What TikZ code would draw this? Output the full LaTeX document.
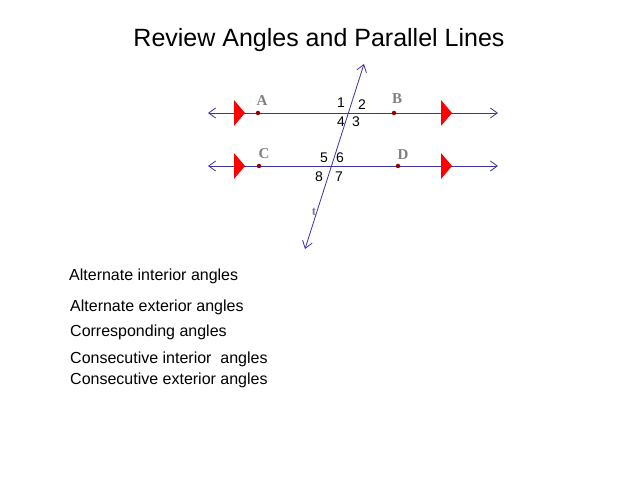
\documentclass[tikz,border=0pt]{standalone}
\usepackage{fontspec}
\setmainfont{Liberation Sans}
\newfontfamily\serifb{Liberation Serif}
\usetikzlibrary{arrows.meta}
\begin{document}
\begin{tikzpicture}[x=1pt,y=-1pt,
  ln/.style={draw={rgb,255:red,60;green,50;blue,160},line width=0.8pt,<->,>={Straight Barb[length=7pt,width=10pt]}},
  tri/.style={fill=red,draw=none},
  pt/.style={circle,fill={rgb,255:red,150;green,0;blue,0},inner sep=0pt,minimum size=4.5pt},
  lett/.style={font=\serifb\bfseries\fontsize{15}{15}\selectfont,text=gray},
  num/.style={font=\fontsize{14}{14}\selectfont},
  item/.style={font=\fontsize{16}{16}\selectfont,anchor=west,inner sep=0pt}]
\useasboundingbox (0,0) rectangle (638,478);
\node[font=\fontsize{25}{26}\selectfont] (title) at (319,40) {Review Angles and Parallel Lines};
\coordinate (L1) at (208,113); \coordinate (R1) at (498,113);
\coordinate (L2) at (208,166); \coordinate (R2) at (498,166);
\coordinate (T1) at (364,64); \coordinate (T2) at (305,249);
\draw[ln] (L1) -- (R1);
\draw[ln] (L2) -- (R2);
\draw[ln] (T2) -- (T1);
\foreach \x/\y in {234/113,441/113,234/166,441/166}
  \fill[tri] (\x,\y-13) -- (\x+11,\y) -- (\x,\y+13) -- cycle;
\node[pt] (A) at (258,113) {}; \node[pt] (B) at (394,113) {};
\node[pt] (C) at (259,166) {}; \node[pt] (D) at (398,166) {};
\node[lett] (la) at (262,101) {A}; \node[lett] (lb) at (397,99) {B};
\node[lett] (lc) at (264,154) {C}; \node[lett] (ld) at (403,155) {D};
\node[lett,font=\serifb\bfseries\fontsize{13}{13}\selectfont] (lt) at (314,212) {t};
\node[num] (n1) at (341,103) {1}; \node[num] (n2) at (362,105) {2};
\node[num] (n4) at (341,122) {4}; \node[num] (n3) at (356,122) {3};
\node[num] (n5) at (324,158) {5}; \node[num] (n6) at (340,158) {6};
\node[num] (n8) at (319,177) {8}; \node[num] (n7) at (339,177) {7};
\node[item] (i1) at (69,276) {Alternate interior angles};
\node[item] (i2) at (70,307) {Alternate exterior angles};
\node[item] (i3) at (70,332) {Corresponding angles};
\node[item] (i4) at (70,359) {Consecutive interior\ \ angles};
\node[item] (i5) at (70,380) {Consecutive exterior angles};
\end{tikzpicture}
\end{document}
